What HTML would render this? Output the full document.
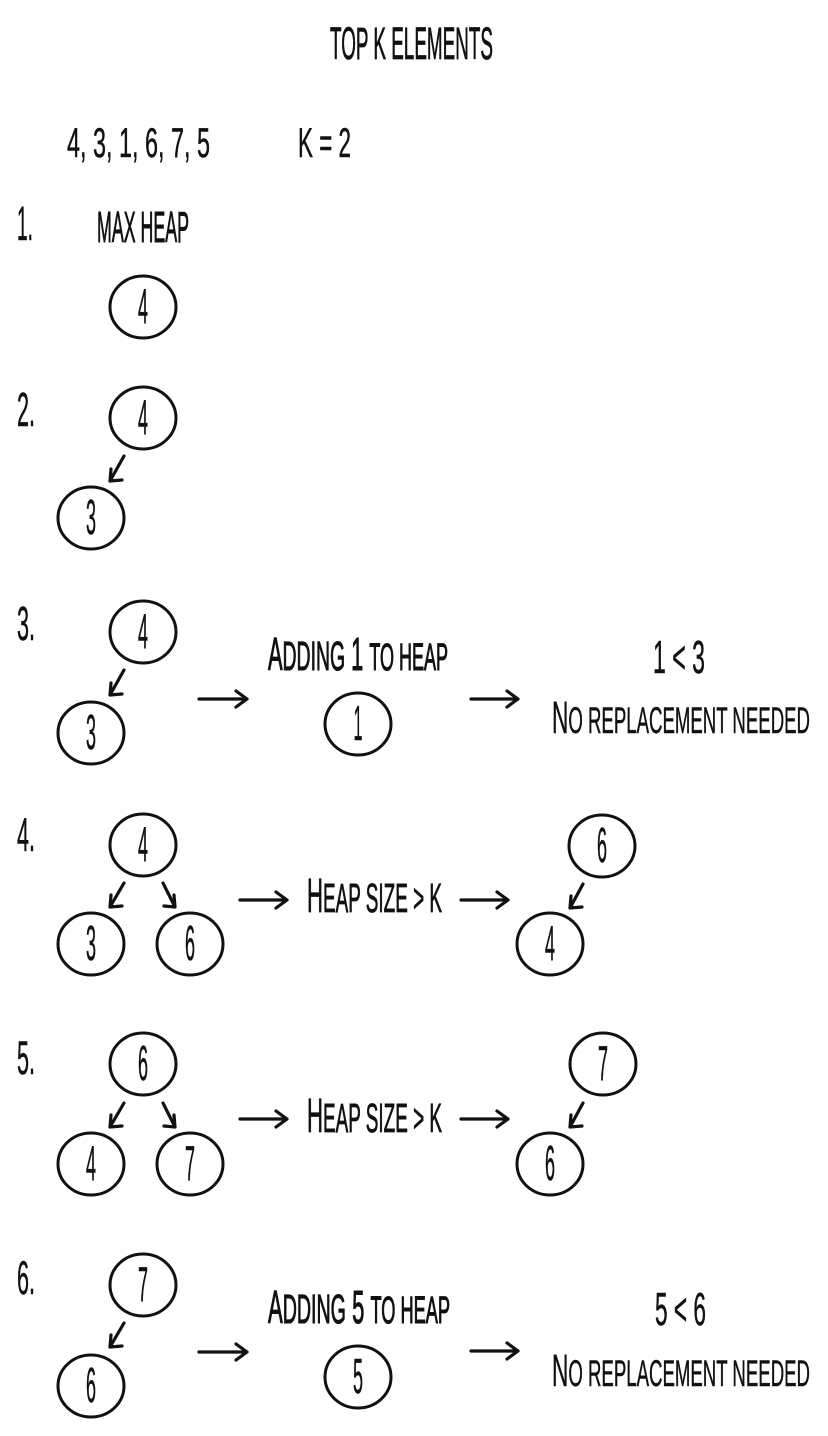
<!DOCTYPE html>
<html>
<head>
<meta charset="utf-8">
<style>
  html,body{margin:0;padding:0;background:#fff;}
  svg{display:block;}
  text{font-family:"Liberation Sans Narrow","Liberation Sans",sans-serif;fill:#111;font-weight:normal;stroke:#111;stroke-width:0.5;}
</style>
</head>
<body>
<svg width="828" height="1436" viewBox="0 0 828 1436" xmlns="http://www.w3.org/2000/svg">
  <rect width="828" height="1436" fill="#fff"/>

  <!-- Header -->
  <text x="330" y="59" font-size="45" textLength="163" lengthAdjust="spacingAndGlyphs" style="stroke-width:0.8">TOP K ELEMENTS</text>
  <text x="67" y="157" font-size="42" textLength="143" lengthAdjust="spacingAndGlyphs">4, 3, 1, 6, 7, 5</text>
  <text x="298" y="157" font-size="42" textLength="53" lengthAdjust="spacingAndGlyphs">K = 2</text>

  <!-- step labels -->
  <text x="17" y="240" font-size="48" textLength="16" lengthAdjust="spacingAndGlyphs">1.</text>
  <text x="97" y="242" font-size="44" textLength="92" lengthAdjust="spacingAndGlyphs" style="stroke-width:0.9">MAX HEAP</text>
  <text x="17" y="426" font-size="48" textLength="18" lengthAdjust="spacingAndGlyphs">2.</text>
  <text x="17" y="640" font-size="48" textLength="18" lengthAdjust="spacingAndGlyphs">3.</text>
  <text x="17" y="851" font-size="47" textLength="18" lengthAdjust="spacingAndGlyphs">4.</text>
  <text x="17" y="1074" font-size="47" textLength="18" lengthAdjust="spacingAndGlyphs">5.</text>
  <text x="17" y="1294" font-size="47" textLength="18" lengthAdjust="spacingAndGlyphs">6.</text>

  <!-- circles -->
  <g fill="none" stroke="#111" stroke-width="3">
    <ellipse cx="143" cy="307" rx="33" ry="31"/>
    <ellipse cx="143" cy="418" rx="33" ry="31"/>
    <ellipse cx="91" cy="518" rx="33" ry="31"/>
    <ellipse cx="143" cy="632" rx="33" ry="31"/>
    <ellipse cx="91" cy="733" rx="33" ry="31"/>
    <ellipse cx="358" cy="724" rx="33" ry="31"/>
    <ellipse cx="143" cy="845" rx="33" ry="31"/>
    <ellipse cx="91" cy="944" rx="33" ry="31"/>
    <ellipse cx="190" cy="944" rx="33" ry="31"/>
    <ellipse cx="602" cy="846" rx="33" ry="31"/>
    <ellipse cx="550" cy="944" rx="33" ry="31"/>
    <ellipse cx="143" cy="1064" rx="33" ry="31"/>
    <ellipse cx="91" cy="1164" rx="33" ry="31"/>
    <ellipse cx="190" cy="1164" rx="33" ry="31"/>
    <ellipse cx="603" cy="1064" rx="33" ry="31"/>
    <ellipse cx="550" cy="1164" rx="33" ry="31"/>
    <ellipse cx="143" cy="1285" rx="33" ry="31"/>
    <ellipse cx="91" cy="1386" rx="33" ry="31"/>
    <ellipse cx="358" cy="1377" rx="33" ry="31"/>
  </g>

  <!-- circle digits -->
  <g font-size="49" text-anchor="middle">
    <text x="143" y="323" textLength="10" lengthAdjust="spacingAndGlyphs">4</text>
    <text x="143" y="434" textLength="10" lengthAdjust="spacingAndGlyphs">4</text>
    <text x="91" y="534" textLength="10" lengthAdjust="spacingAndGlyphs">3</text>
    <text x="143" y="648" textLength="10" lengthAdjust="spacingAndGlyphs">4</text>
    <text x="91" y="749" textLength="10" lengthAdjust="spacingAndGlyphs">3</text>
    <text x="358" y="740" textLength="9" lengthAdjust="spacingAndGlyphs">1</text>
    <text x="143" y="861" textLength="10" lengthAdjust="spacingAndGlyphs">4</text>
    <text x="91" y="960" textLength="10" lengthAdjust="spacingAndGlyphs">3</text>
    <text x="190" y="960" textLength="10" lengthAdjust="spacingAndGlyphs">6</text>
    <text x="602" y="862" textLength="10" lengthAdjust="spacingAndGlyphs">6</text>
    <text x="550" y="960" textLength="10" lengthAdjust="spacingAndGlyphs">4</text>
    <text x="143" y="1080" textLength="10" lengthAdjust="spacingAndGlyphs">6</text>
    <text x="91" y="1180" textLength="10" lengthAdjust="spacingAndGlyphs">4</text>
    <text x="190" y="1180" textLength="10" lengthAdjust="spacingAndGlyphs">7</text>
    <text x="603" y="1080" textLength="10" lengthAdjust="spacingAndGlyphs">7</text>
    <text x="550" y="1180" textLength="10" lengthAdjust="spacingAndGlyphs">6</text>
    <text x="143" y="1301" textLength="10" lengthAdjust="spacingAndGlyphs">7</text>
    <text x="91" y="1402" textLength="10" lengthAdjust="spacingAndGlyphs">6</text>
    <text x="358" y="1393" textLength="10" lengthAdjust="spacingAndGlyphs">5</text>
  </g>

  <!-- arrows -->
  <g fill="none" stroke="#111" stroke-width="3.2" stroke-linecap="round" stroke-linejoin="round">
    <path d="M124 456 L110 481 M111 469 L110 481 L122 480"/>
    <path d="M124 670 L110 695 M111 683 L110 695 L122 694"/>
    <path d="M199 699 L247 699 M236 691 L247 699 L236 707"/>
    <path d="M471 699 L518 699 M507 691 L518 699 L507 707"/>
    <path d="M124 883 L110 907 M111 895 L110 907 L122 906"/>
    <path d="M163 883 L175 907 M174 895 L175 907 L164 906"/>
    <path d="M240 900 L287 900 M276 892 L287 900 L276 908"/>
    <path d="M461 900 L508 900 M497 892 L508 900 L497 908"/>
    <path d="M583 884 L570 908 M571 896 L570 908 L582 907"/>
    <path d="M124 1103 L110 1127 M111 1115 L110 1127 L122 1126"/>
    <path d="M163 1103 L175 1127 M174 1115 L175 1127 L164 1126"/>
    <path d="M240 1119 L287 1119 M276 1111 L287 1119 L276 1127"/>
    <path d="M461 1119 L508 1119 M497 1111 L508 1119 L497 1127"/>
    <path d="M583 1103 L570 1127 M571 1115 L570 1127 L582 1126"/>
    <path d="M124 1323 L110 1347 M111 1335 L110 1347 L122 1346"/>
    <path d="M199 1352 L247 1352 M236 1344 L247 1352 L236 1360"/>
    <path d="M471 1351 L518 1351 M507 1343 L518 1351 L507 1359"/>
  </g>

  <!-- step 3 labels -->
  <text x="268" y="670" font-size="46" textLength="180" lengthAdjust="spacingAndGlyphs" style="stroke-width:1.1">A<tspan font-size="41">DDING</tspan> 1 <tspan font-size="38">TO HEAP</tspan></text>
  <text x="653" y="673" font-size="46" textLength="52" lengthAdjust="spacingAndGlyphs">1 &lt; 3</text>
  <text x="552" y="733" font-size="45" textLength="258" lengthAdjust="spacingAndGlyphs">N<tspan font-size="37">O REPLACEMENT NEEDED</tspan></text>

  <!-- step 4 labels -->
  <text x="307" y="912" font-size="48" textLength="135" lengthAdjust="spacingAndGlyphs" style="stroke-width:0.8">H<tspan font-size="41">EAP SIZE &gt; K</tspan></text>

  <!-- step 5 labels -->
  <text x="307" y="1132" font-size="48" textLength="135" lengthAdjust="spacingAndGlyphs" style="stroke-width:0.8">H<tspan font-size="41">EAP SIZE &gt; K</tspan></text>

  <!-- step 6 labels -->
  <text x="268" y="1323" font-size="46" textLength="182" lengthAdjust="spacingAndGlyphs" style="stroke-width:1.1">A<tspan font-size="41">DDING</tspan> 5 <tspan font-size="38">TO HEAP</tspan></text>
  <text x="655" y="1325" font-size="46" textLength="51" lengthAdjust="spacingAndGlyphs">5 &lt; 6</text>
  <text x="552" y="1386" font-size="45" textLength="258" lengthAdjust="spacingAndGlyphs">N<tspan font-size="37">O REPLACEMENT NEEDED</tspan></text>
</svg>
</body>
</html>
